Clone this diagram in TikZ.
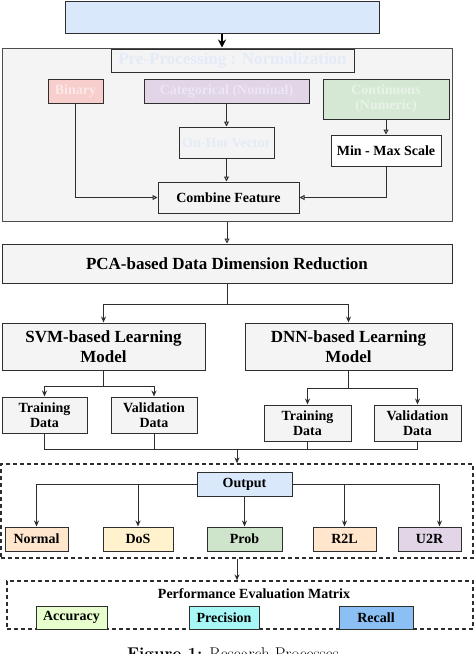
\documentclass[tikz,border=0pt]{standalone}
\usepackage{fontspec}
\setmainfont{Liberation Serif}
\newfontfamily\capfont{Latin Modern Roman}
\usetikzlibrary{arrows.meta,calc}
\definecolor{bdr}{HTML}{2E2E2E}
\definecolor{lgray}{HTML}{F4F4F4}
\definecolor{lblue}{HTML}{DAE8FC}
\definecolor{lred}{HTML}{F8CECC}
\definecolor{lpurp}{HTML}{E1D5E7}
\definecolor{lgreen}{HTML}{D5E8D4}
\definecolor{lorange}{HTML}{FFE6CC}
\definecolor{lyellow}{HTML}{FFF2CC}
\definecolor{pgreen}{HTML}{CFE5CB}
\definecolor{acc}{HTML}{E6FFCC}
\definecolor{prec}{HTML}{A8F7F7}
\definecolor{rec}{HTML}{8CC0F5}
\definecolor{faint}{HTML}{E4EBF8}
\definecolor{faintp}{HTML}{FBE8E8}
\definecolor{faintv}{HTML}{EDE6F3}
\definecolor{faintg}{HTML}{E8F3E7}
\begin{document}
\begin{tikzpicture}[x=1pt,y=-1pt,
  box/.style={draw=bdr,line width=1pt,inner sep=1pt,align=center,
    font=\fontsize{14}{15}\selectfont\bfseries},
  bigbox/.style={box,font=\fontsize{17}{20}\selectfont\bfseries},
  conn/.style={draw=bdr,line width=1pt},
  arr/.style={conn,-{Stealth[length=6pt,width=5pt]}},
  oarr/.style={conn,-{Triangle[open,length=5pt,width=5pt]}},
  dbox/.style={draw=bdr,line width=1.3pt,dash pattern=on 4pt off 3pt}]
\useasboundingbox (0,0) rectangle (474,654);
\clip (0,0) rectangle (474,654);
% top
\node[box,fill=lblue,minimum width=314,minimum height=32] (top) at (222,17) {};
\node[box,fill=lgray,draw=bdr!85,minimum width=450,minimum height=173] (outer) at (227,134.5) {};
\node[box,fill=lgray,minimum width=243,minimum height=23,text=faint,font=\fontsize{17}{20}\selectfont\bfseries] (pre) at (232.5,60.5) {Pre-Processing : Normalization};
\node[box,fill=lred,text=faintp,minimum width=55,minimum height=24] (bin) at (75.5,91) {Binary};
\node[box,fill=lpurp,text=faintv,minimum width=165,minimum height=24] (cat) at (226.5,91) {Categorical (Nominal)};
\node[box,fill=lgreen,text=faintg,minimum width=126,minimum height=40] (con) at (386,99) {Continuous\\(Numeric)};
\node[box,fill=lgray,text=faint,minimum width=95,minimum height=31] (oh) at (226.5,142.5) {On-Hot Vector};
\node[box,fill=white,minimum width=110,minimum height=31] (mm) at (386,150.5) {Min - Max Scale};
\node[box,fill=lgray,minimum width=141,minimum height=31] (cf) at (228.5,197.5) {Combine Feature};
\draw[conn,line width=1.3pt,-{Stealth[length=8pt,width=8pt]},draw=black] (top.south) -- (top.south |- outer.north);
\draw[oarr] (bin.south) |- (cf.west);
\draw[oarr] (cat.south) -- (oh.north);
\draw[oarr] (oh.south) -- (oh.south |- cf.north);
\draw[oarr] (con.south) -- (mm.north);
\draw[oarr] (mm.south) |- (cf.east);
% PCA
\node[bigbox,fill=lgray,minimum width=450,minimum height=39] (pca) at (227,263.5) {PCA-based Data Dimension Reduction};
\draw[oarr] (outer.south) -- (pca.north);
\node[bigbox,fill=lgray,minimum width=203,minimum height=47] (svm) at (103.5,346.5) {SVM-based Learning\\Model};
\node[bigbox,fill=lgray,minimum width=207,minimum height=47] (dnn) at (348.5,346.5) {DNN-based Learning\\Model};
\coordinate (split) at (227,304);
\draw[conn] (pca.south) -- (split);
\draw[arr] (split) -| (svm.north);
\draw[arr] (split) -| (dnn.north);
\node[box,fill=lgray,minimum width=85,minimum height=36] (t1) at (44.5,415) {Training\\Data};
\node[box,fill=lgray,minimum width=86,minimum height=36] (v1) at (154,415) {Validation\\Data};
\node[box,fill=lgray,minimum width=87,minimum height=36] (t2) at (307.5,423) {Training\\Data};
\node[box,fill=lgray,minimum width=87,minimum height=36] (v2) at (417.5,423) {Validation\\Data};
\coordinate (s1) at (103.5,386);
\coordinate (s2) at (348.5,388);
\draw[conn] (svm.south) -- (s1);
\draw[arr] (s1) -| (t1.north);
\draw[arr] (s1) -| (v1.north);
\draw[conn] (dnn.south) -- (s2);
\draw[arr] (s2) -| (t2.north);
\draw[arr] (s2) -| (v2.north);
\coordinate (merge) at (237,449);
\draw[conn] (t1.south) |- (merge);
\draw[conn] (v1.south) |- (merge);
\draw[conn] (t2.south) |- (merge);
\draw[conn] (v2.south) |- (merge);
% output
\node[dbox,minimum width=472,minimum height=94] (d1) at (237,511) {};
\draw[arr] (merge) -- (merge |- d1.north);
\node[box,fill=lblue,minimum width=95,minimum height=24] (out) at (244.5,484) {Output};
\node[box,fill=lorange,minimum width=63,minimum height=24] (nor) at (36.5,539) {Normal};
\node[box,fill=lyellow,minimum width=70,minimum height=24] (dos) at (138,539) {DoS};
\node[box,fill=pgreen,minimum width=75,minimum height=24] (prob) at (244.5,539) {Prob};
\node[box,fill=lorange,minimum width=63,minimum height=24] (r2l) at (344.5,539) {R2L};
\node[box,fill=lpurp,minimum width=63,minimum height=24] (u2r) at (429.5,539) {U2R};
\draw[arr] (out.west) -| (nor.north);
\draw[arr] (out.west) -| (dos.north);
\draw[arr] (out.south) -- (prob.north);
\draw[arr] (out.east) -| (r2l.north);
\draw[arr] (out.east) -| ([xshift=10pt]u2r.north);
% performance
\node[dbox,minimum width=466,minimum height=48] (d2) at (240,605) {};
\draw[arr] (d1.south -| merge) -- (merge |- d2.north);
\node[font=\fontsize{14}{15}\selectfont\bfseries] (perf) at (254,594) {Performance Evaluation Matrix};
\node[box,fill=acc,minimum width=71,minimum height=23] (accn) at (71.5,617.5) {Accuracy};
\node[box,fill=prec,minimum width=70,minimum height=23] (precn) at (224,617.5) {Precision};
\node[box,fill=rec,minimum width=74,minimum height=23] (recn) at (376,617.5) {Recall};
% caption (cut off at the lower edge, as in the reference)
\node[anchor=base,font=\capfont\fontsize{17}{20}\selectfont] (cap) at (233,659) {\textbf{Figure 1:} Research Processes};
\end{tikzpicture}
\end{document}
